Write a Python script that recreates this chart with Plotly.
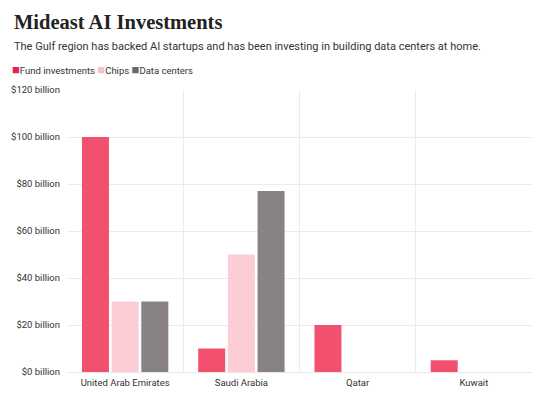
import plotly.graph_objects as go

countries = ["United Arab Emirates", "Saudi Arabia", "Qatar", "Kuwait"]
fund_investments = [100, 10, 20, 5]
chips = [30, 50, None, None]
data_centers = [30, 77, None, None]
series_names = ["Fund investments", "Chips", "Data centers"]
y_tick_values = [0, 20, 40, 60, 80, 100, 120]
y_tick_labels = ["$0 billion", "$20 billion", "$40 billion", "$60 billion",
                 "$80 billion", "$100 billion", "$120 billion"]

bar_colors = ["#f2506f", "#fdcdd5", "#888286"]
legend_colors = ["#e3254b", "#f9c0ca", "#6e666c"]

fig = go.Figure()
for name, vals, col in zip(series_names, [fund_investments, chips, data_centers], bar_colors):
    fig.add_trace(go.Bar(x=countries, y=vals, name=name, marker=dict(color=col, line=dict(width=0))))

legend_text = "&nbsp;".join(
    f"<span style='color:{c};font-size:13px'>■</span>{n}" for n, c in zip(series_names, legend_colors)
)

L, R, T, B = 67, 18, 90, 22
PW, PH = 550 - L - R, 394 - T - B

def px_x(x):
    return (x - L) / PW

def px_y(y):
    return (394 - B - y) / PH

fig.update_layout(
    width=550, height=394,
    margin=dict(l=L, r=R, t=T, b=B, autoexpand=False),
    paper_bgcolor="white", plot_bgcolor="white",
    barmode="group", bargap=0.234, bargroupgap=0.09,
    showlegend=False,
    font=dict(family="Roboto, sans-serif", size=9, color="#444"),
    xaxis=dict(tickson="boundaries", showgrid=True, gridcolor="#ebebeb", gridwidth=1,
               ticks="", showline=True, linecolor="#e6e6e6", automargin=False,
               tickfont=dict(size=9.5, color="#333"), ticklabelstandoff=2),
    yaxis=dict(range=[0, 120], tickvals=y_tick_values, ticktext=y_tick_labels,
               showgrid=True, gridcolor="#ebebeb", zeroline=False, ticks="", automargin=False,
               tickfont=dict(size=9.5, color="#333"), ticklabelstandoff=6),
)

fig.add_annotation(text="<b>Mideast AI Investments</b>", xref="paper", yref="paper",
                   x=px_x(12), y=px_y(22), xanchor="left", yanchor="middle",
                   showarrow=False, font=dict(family="Liberation Serif", size=20.5, color="#222"))
fig.add_annotation(text="The Gulf region has backed AI startups and has been investing in building data centers at home.",
                   xref="paper", yref="paper", x=px_x(12), y=px_y(47),
                   xanchor="left", yanchor="middle", showarrow=False,
                   font=dict(family="Roboto, sans-serif", size=11, color="#333"))
fig.add_annotation(text=legend_text, xref="paper", yref="paper", x=px_x(10),
                   y=px_y(70), xanchor="left", yanchor="middle", showarrow=False,
                   font=dict(family="Roboto, sans-serif", size=9.5, color="#333"))

fig.write_html("out.html", config={"displayModeBar": False},
               post_script="document.body.style.margin='0';document.body.style.padding='0';")
